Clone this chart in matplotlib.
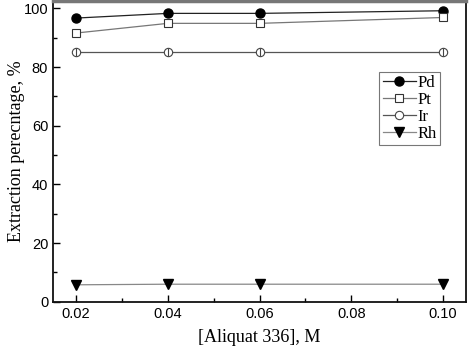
import numpy as np
import matplotlib.pyplot as plt
from matplotlib.ticker import MultipleLocator

# Aliquat 336 concentration (M)
conc = [0.02, 0.04, 0.06, 0.10]

# Extraction percentage for each metal
pd_vals = [96.7, 98.3, 98.3, 99.2]
pt_vals = [91.6, 94.9, 94.9, 96.9]
ir_vals = [85.0, 85.0, 85.0, 85.0]
rh_vals = [5.8, 6.0, 6.0, 6.0]

serif = ['Liberation Serif', 'DejaVu Serif']
sans = ['Liberation Sans', 'DejaVu Sans']

fig = plt.figure(figsize=(4.74, 3.53), dpi=100)
ax = fig.add_axes([0.112, 0.145, 0.871, 0.852])

ax.plot(conc, pd_vals, '-o', color='#222222', lw=0.9, ms=6.5,
        mfc='black', mec='black', label='Pd')
ax.plot(conc, pt_vals, '-s', color='#777777', lw=0.9, ms=5.5,
        mfc='white', mec='#333333', mew=0.8, label='Pt')
ax.plot(conc, ir_vals, '-o', color='#555555', lw=0.9, ms=6,
        mfc='white', mec='#444444', mew=0.8, label='Ir')
ax.plot(conc, ir_vals, '|', color='#444444', ms=6, mew=0.8)
ax.plot(conc, rh_vals, '-v', color='#888888', lw=0.9, ms=7,
        mfc='black', mec='black', label='Rh')

ax.set_xlim(0.015, 0.105)
ax.set_ylim(0, 102.5)
ax.xaxis.set_major_locator(MultipleLocator(0.02))
ax.xaxis.set_minor_locator(MultipleLocator(0.01))
ax.yaxis.set_major_locator(MultipleLocator(20))
ax.yaxis.set_minor_locator(MultipleLocator(10))
ax.set_xticks([0.02, 0.04, 0.06, 0.08, 0.10])
ax.set_xticklabels(['0.02', '0.04', '0.06', '0.08', '0.10'])

ax.tick_params(which='both', direction='in', top=False, right=False,
               labelsize=10.5, width=1)
ax.tick_params(which='major', length=5)
ax.tick_params(which='minor', length=3)
for lab in ax.get_xticklabels() + ax.get_yticklabels():
    lab.set_family(sans)

for side in ['left', 'bottom', 'right']:
    ax.spines[side].set_linewidth(1.3)
    ax.spines[side].set_color('#111111')
ax.spines['top'].set_linewidth(2.5)
ax.spines['top'].set_color('#777777')

ax.set_xlabel('[Aliquat 336], M', family=serif, fontsize=13, labelpad=6)
ax.set_ylabel('Extraction perecntage, %', family=serif, fontsize=13)
ax.yaxis.set_label_coords(-0.068, 0.5)

leg = ax.legend(loc='upper left', bbox_to_anchor=(0.79, 0.765),
                prop={'family': serif, 'size': 12}, frameon=True,
                fancybox=False, edgecolor='#777777', framealpha=1,
                handlelength=2.0, handletextpad=0.1, labelspacing=0.05,
                borderpad=0.2, borderaxespad=0)
leg.get_frame().set_linewidth(0.8)

fig.savefig('out.png', dpi=100)
